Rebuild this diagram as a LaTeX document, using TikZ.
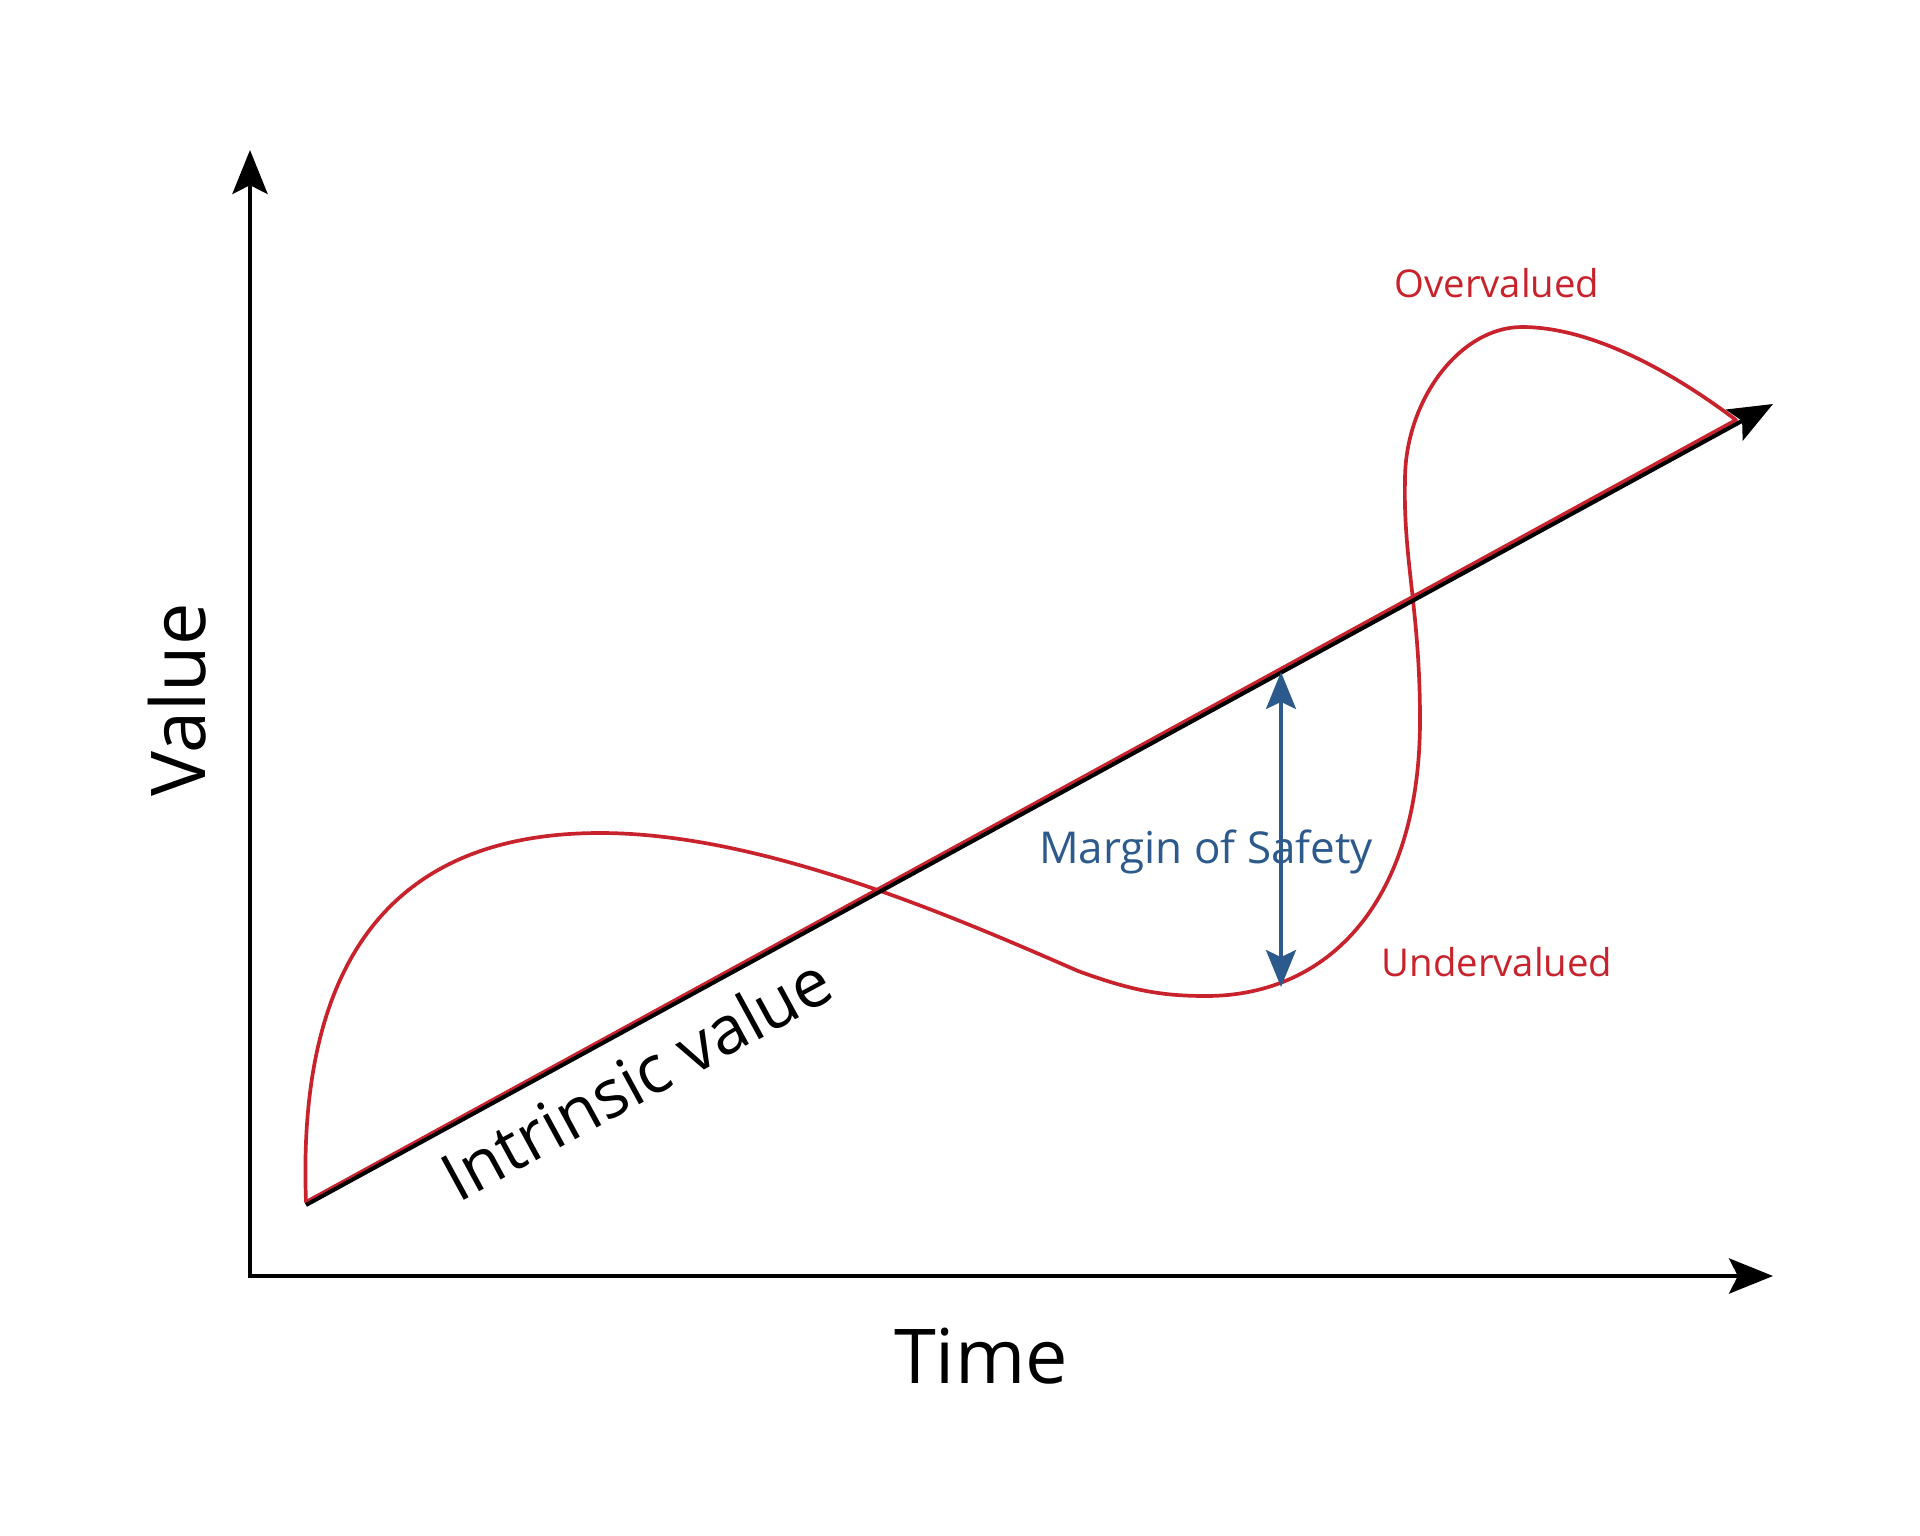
\documentclass[tikz,border=0pt]{standalone}
\usepackage{fontspec}
\setmainfont{Open Sans}
\usetikzlibrary{arrows.meta}
\definecolor{PriceRed}{HTML}{C8232C}
\definecolor{SafeBlue}{HTML}{2D5A8C}

\begin{document}
\begin{tikzpicture}[x=0.01cm,y=-0.01cm,
  axis/.style={line width=1.15pt,black,line join=miter},
  axtip/.tip={Stealth[length=12.5pt,width=10pt,inset=2.5pt]},
  sftip/.tip={Stealth[length=10.5pt,width=8.5pt,inset=2pt]},
  price/.style={line width=1.05pt,PriceRed,line join=round},
  ivline/.style={line width=1.15pt,black,-axtip},
  safety/.style={line width=1.1pt,SafeBlue,sftip-sftip},
  bigtxt/.style={font=\fontsize{21.5}{26}\selectfont,inner sep=0pt,anchor=base},
  midtxt/.style={font=\fontsize{19}{23}\selectfont,inner sep=0pt},
  smalltxt/.style={font=\fontsize{10.9}{13}\selectfont,inner sep=0pt,anchor=base},
]
\useasboundingbox (0,0) rectangle (1920,1536);
% axes
\coordinate (ytop) at (250,150);
\coordinate (orig) at (250,1276);
\coordinate (xend) at (1773,1276);
\draw[axis,axtip-axtip] (ytop) -- (orig) -- (xend);
% price curve around the intrinsic value
\draw[price] (306,1202) .. controls (298,990) and (370,833) .. (600,833)
  .. controls (760,833) and (950,915) .. (1078,971)
  .. controls (1130,990) and (1160,996) .. (1206,996)
  .. controls (1330,996) and (1420,900) .. (1420,720)
  .. controls (1420,610) and (1403,560) .. (1405,480)
  .. controls (1405,400) and (1460,327) .. (1522,327)
  .. controls (1590,327) and (1670,370) .. (1736,420)
  -- cycle;
% intrinsic value line
\coordinate (iv0) at (306,1205);
\coordinate (iv1) at (1773,404);
\draw[ivline] (iv0) -- (iv1);
% margin of safety
\coordinate (mtop) at (1281,672);
\coordinate (mbot) at (1281,987);
\draw[safety] (mtop) -- (mbot);
% labels
\node[bigtxt,rotate=90] (valuelbl) at (205,700) {Value};
\node[bigtxt] (timelbl) at (981,1383) {Time};
\node[midtxt,rotate=28.6] (ivlbl) at (636,1078) {Intrinsic value};
\node[font=\fontsize{12.5}{15}\selectfont,inner sep=0pt,anchor=base,SafeBlue] (moslbl) at (1206,863) {Margin of Safety};
\node[smalltxt,PriceRed] (overlbl) at (1497,297) {Overvalued};
\node[smalltxt,PriceRed] (underlbl) at (1497,976) {Undervalued};
\end{tikzpicture}
\end{document}
